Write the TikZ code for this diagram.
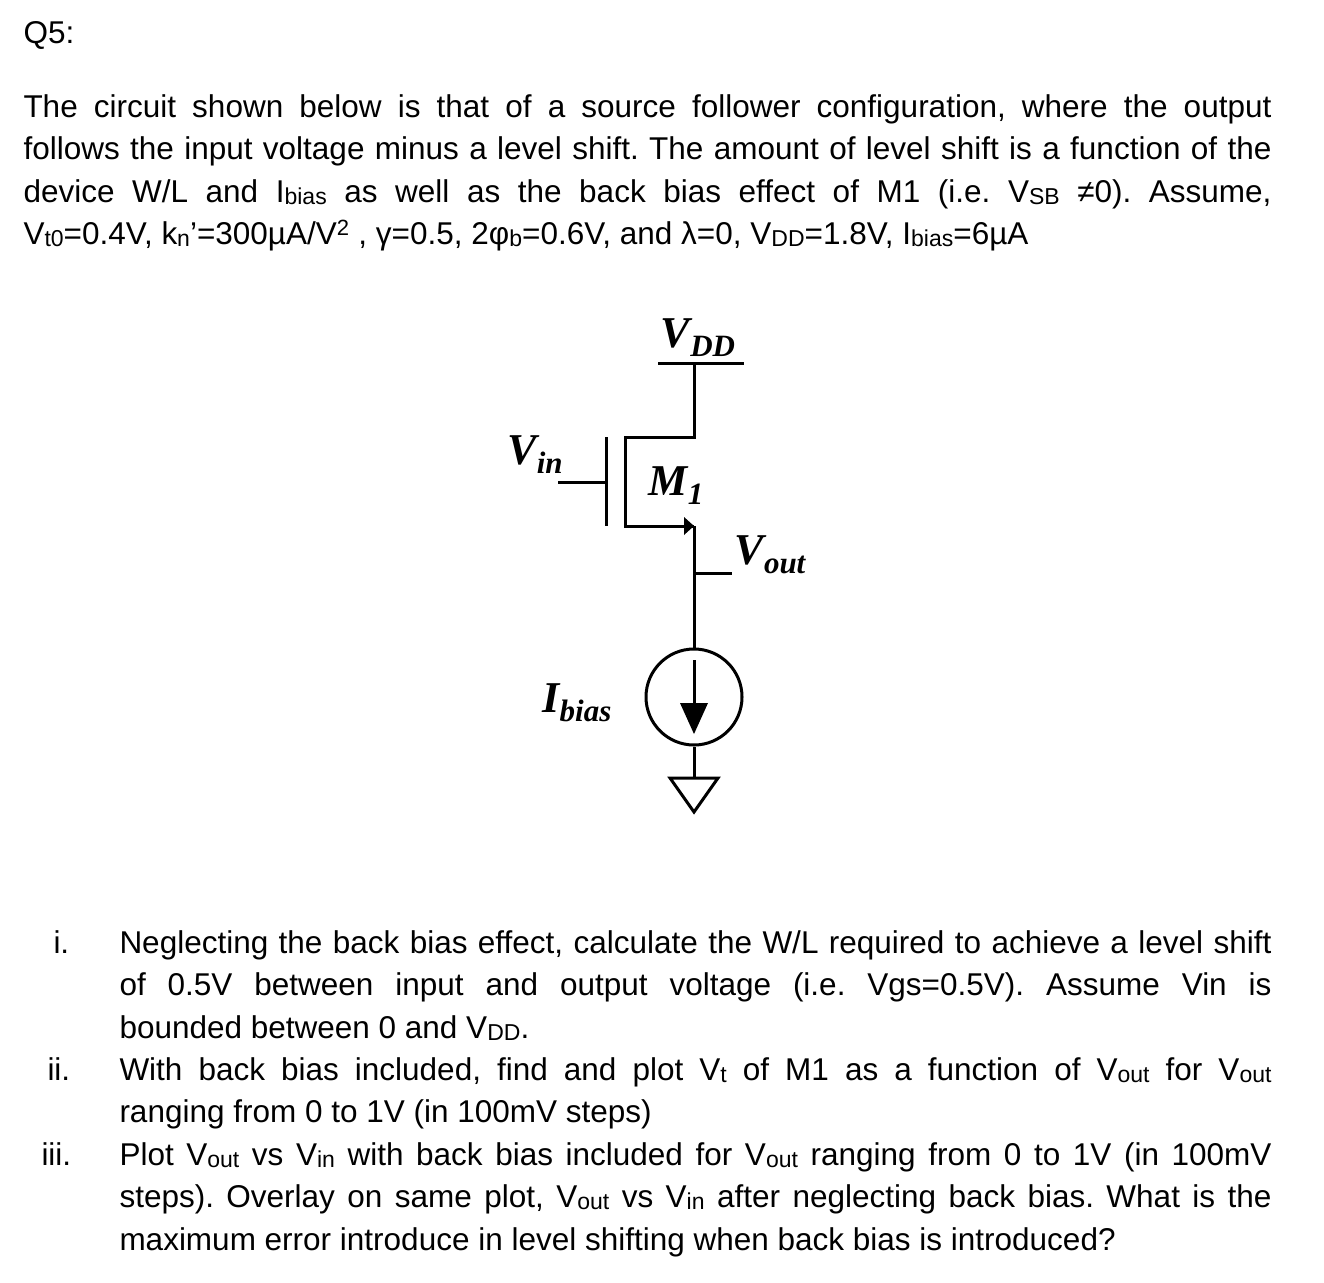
\documentclass[tikz,border=0pt]{standalone}
\usepackage{fontspec}
\setmainfont{Liberation Sans}
\newfontfamily\cf{Liberation Serif}
\newcommand{\lo}[1]{\raisebox{-2pt}{\fontsize{23}{23}\selectfont #1}}
\newcommand{\cs}[1]{\raisebox{-9pt}{\fontsize{31}{31}\selectfont #1}}
\frenchspacing
\begin{document}
\begin{tikzpicture}[x=1pt,y=-1pt,line width=3pt,
  txt/.style={anchor=base west,inner sep=0,font=\fontsize{31.5}{42.5}\selectfont,align=justify},
  lab/.style={inner sep=0,font=\cf\bfseries\itshape\fontsize{44}{44}\selectfont}]
\useasboundingbox (0,0) rectangle (1324,1282);
\node[txt] (q) at (22,43) {Q5:};
\node[txt,text width=1248] (p) at (22,117) {The circuit shown below is that of a source follower configuration, where the output\linebreak
follows the input voltage minus a level shift. The amount of level shift is a function of the\linebreak
device W/L and I\lo{bias} as well as the back bias effect of M1 (i.e. V\lo{SB} ≠0). Assume,\linebreak
V\lo{t0}=0.4V, k\lo{n}’=300µA/V\textsuperscript{2} , γ=0.5, 2φ\lo{b}=0.6V, and λ=0, V\lo{DD}=1.8V, I\lo{bias}=6µA};
% circuit
\coordinate (vddl) at (658,363); \coordinate (vddr) at (744,363);
\coordinate (d) at (694,363); \coordinate (dt) at (694,437);
\coordinate (cht) at (625,437); \coordinate (chb) at (625,526);
\coordinate (s) at (694,526); \coordinate (vo) at (694,573); \coordinate (vor) at (732,573);
\coordinate (gt) at (606,437); \coordinate (gb) at (606,526);
\coordinate (gl) at (558,482); \coordinate (gr) at (606,482);
\node[circle,draw,minimum size=96,inner sep=0] (cs) at (694,697) {};
\coordinate (gn) at (694,778);
\draw (vddl) -- (vddr);
\draw (d) -- (dt) -- (cht) -- (chb) -- (s);
\fill (s) ++(-10,-9) -- (s) -- ++(-10,9) -- cycle;
\draw (s) -- (cs.north);
\draw (vo) -- (vor);
\draw (gt) -- (gb); \draw (gl) -- (gr);
\draw (cs.south) -- (gn);
\draw (670,778) -- (718,778) -- (694,812) -- cycle;
\draw (694,660) -- (694,710);
\fill (680,703) -- (708,703) -- (694,734) -- cycle;
\node[lab] (lvdd) at (698,338) {V\cs{DD}};
\node[lab] (lvin) at (535,455) {V\cs{in}};
\node[lab] (lm) at (676,486) {M\cs{1}};
\node[lab] (lvo) at (770,555) {V\cs{out}};
\node[lab] (lib) at (577,703) {I\cs{bias}};
% list
\node[txt] (n1) at (52,953) {i.};
\node[txt] (n2) at (46,1080) {ii.};
\node[txt] (n3) at (40,1165) {iii.};
\node[txt,text width=1152] (t1) at (118,953) {Neglecting the back bias effect, calculate the W/L required to achieve a level shift\linebreak
of 0.5V between input and output voltage (i.e. Vgs=0.5V). Assume Vin is\linebreak
bounded between 0 and V\lo{DD}.};
\node[txt,text width=1152] (t2) at (118,1080) {With back bias included, find and plot V\lo{t} of M1 as a function of V\lo{out} for V\lo{out}\linebreak
ranging from 0 to 1V (in 100mV steps)};
\node[txt,text width=1152] (t3) at (118,1165) {Plot V\lo{out} vs V\lo{in} with back bias included for V\lo{out} ranging from 0 to 1V (in 100mV\linebreak
steps). Overlay on same plot, V\lo{out} vs V\lo{in} after neglecting back bias. What is the\linebreak
maximum error introduce in level shifting when back bias is introduced?};
\end{tikzpicture}
\end{document}
